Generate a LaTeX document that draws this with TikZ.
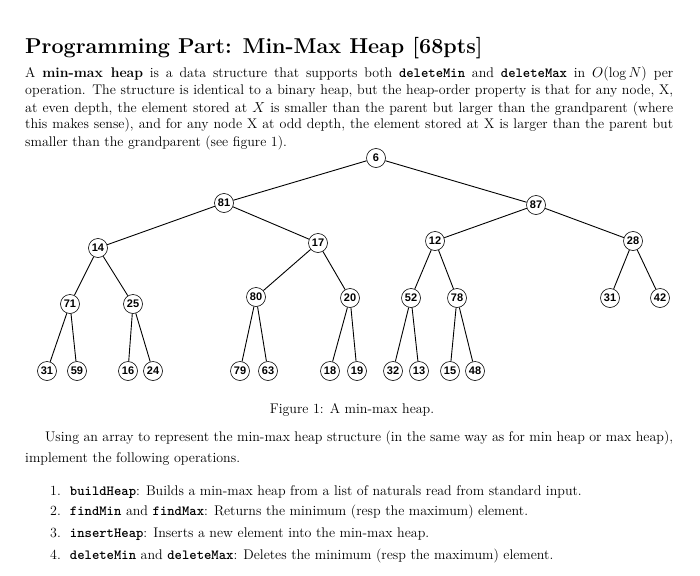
\documentclass[tikz,border=0pt]{standalone}
\usepackage{fontspec}
\newfontfamily\treefont{Liberation Sans}
\begin{document}
\begin{tikzpicture}[x=1pt,y=-1pt,
  hn/.style={circle,draw,line width=0.6pt,inner sep=0pt,minimum size=19,font=\treefont\bfseries\fontsize{11}{11}\selectfont},
  ed/.style={line width=0.9pt},
  body/.style={anchor=north west,inner sep=0pt,text width=648,align=justify,font=\fontsize{14}{17}\selectfont}]
\useasboundingbox (0,0) rectangle (700,575);
\node[anchor=west,inner sep=0pt,font=\bfseries\fontsize{21.5}{24}\selectfont] (title) at (25,48) {Programming Part: Min-Max Heap [68pts]};
\node[body] (p1) at (25,67) {A \textbf{min-max heap} is a data structure that supports both \texttt{\textbf{deleteMin}} and \texttt{\textbf{deleteMax}} in $O(\log N)$ per operation. The structure is identical to a binary heap, but the heap-order property is that for any node, X, at even depth, the element stored at $X$ is smaller than the parent but larger than the grandparent (where this makes sense), and for any node X at odd depth, the element stored at X is larger than the parent but smaller than the grandparent (see figure 1).};
% tree
\node[hn] (a) at (376,158) {6};
\node[hn] (b) at (224,203) {81};
\node[hn] (c) at (536,205) {87};
\node[hn] (d) at (98,248) {14};
\node[hn] (e) at (318,243) {17};
\node[hn] (f) at (435,241) {12};
\node[hn] (g) at (633,241) {28};
\node[hn] (h) at (70,304) {71};
\node[hn] (i) at (133,304) {25};
\node[hn] (j) at (256,297) {80};
\node[hn] (k) at (350,298) {20};
\node[hn] (l) at (411,298) {52};
\node[hn] (m) at (457,298) {78};
\node[hn] (n) at (610,298) {31};
\node[hn] (o) at (660,298) {42};
\node[hn] (h1) at (47,371) {31};
\node[hn] (h2) at (77,371) {59};
\node[hn] (i1) at (128,371) {16};
\node[hn] (i2) at (153,371) {24};
\node[hn] (j1) at (240,371) {79};
\node[hn] (j2) at (268,371) {63};
\node[hn] (k1) at (330,371) {18};
\node[hn] (k2) at (357,371) {19};
\node[hn] (l1) at (393,371) {32};
\node[hn] (l2) at (419,371) {13};
\node[hn] (m1) at (450,371) {15};
\node[hn] (m2) at (475,371) {48};
\foreach \p/\q in {a/b,a/c,b/d,b/e,c/f,c/g,d/h,d/i,e/j,e/k,f/l,f/m,g/n,g/o,h/h1,h/h2,i/i1,i/i2,j/j1,j/j2,k/k1,k/k2,l/l1,l/l2,m/m1,m/m2}
  \draw[ed] (\p) -- (\q);
\node[font=\fontsize{14}{16}\selectfont] (cap) at (352,410) {Figure 1: A min-max heap.};
\node[body,font=\fontsize{14}{21}\selectfont] (p2) at (25,431) {\hspace*{20pt}Using an array to represent the min-max heap structure (in the same way as for min heap or max heap), implement the following operations.};
\begin{scope}[every node/.style={anchor=west,inner sep=0pt,font=\fontsize{14}{16}\selectfont}]
\node (l1t) at (50,492) {1.\ \ \texttt{\textbf{buildHeap}}: Builds a min-max heap from a list of naturals read from standard input.};
\node (l2t) at (50,512) {2.\ \ \texttt{\textbf{findMin}} and \texttt{\textbf{findMax}}: Returns the minimum (resp the maximum) element.};
\node (l3t) at (50,534) {3.\ \ \texttt{\textbf{insertHeap}}: Inserts a new element into the min-max heap.};
\node (l4t) at (50,556) {4.\ \ \texttt{\textbf{deleteMin}} and \texttt{\textbf{deleteMax}}: Deletes the minimum (resp the maximum) element.};
\end{scope}
\end{tikzpicture}
\end{document}
